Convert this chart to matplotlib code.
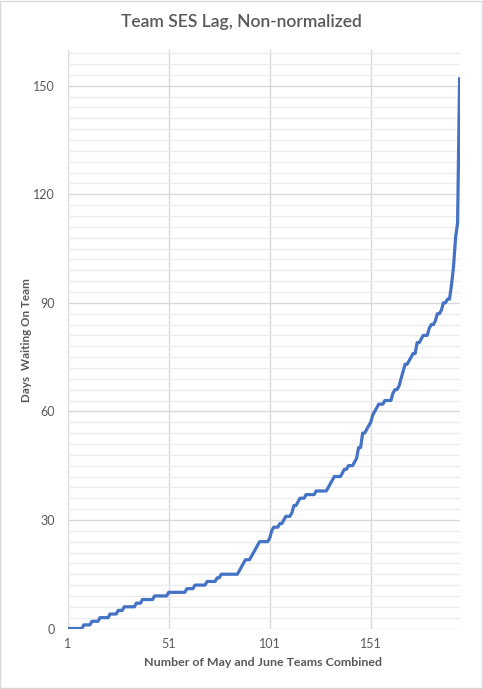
import matplotlib
matplotlib.use("Agg")
from matplotlib import pyplot as plt
from matplotlib.patches import Rectangle
import numpy as np

# Days waiting, sorted, one value per team
days = [0, 0, 0, 0, 0, 0, 0, 0,
        1, 1, 1, 1,
        2, 2, 2, 2,
        3, 3, 3, 3, 3,
        4, 4, 4, 4,
        5, 5, 5,
        6, 6, 6, 6, 6, 6,
        7, 7, 7,
        8, 8, 8, 8, 8, 8,
        9, 9, 9, 9, 9, 9, 9,
        10, 10, 10, 10, 10, 10, 10, 10, 10,
        11, 11, 11, 11,
        12, 12, 12, 12, 12, 12,
        13, 13, 13, 13, 13,
        14, 14,
        15, 15, 15, 15, 15, 15, 15, 15, 15,
        16, 17, 18,
        19, 19, 19,
        20, 21, 22, 23,
        24, 24, 24, 24, 24,
        25, 27,
        28, 28, 28,
        29, 29, 30,
        31, 31, 31, 32,
        34, 34, 35,
        36, 36, 36,
        37, 37, 37, 37, 37,
        38, 38, 38, 38, 38, 38,
        39, 40, 41,
        42, 42, 42, 42,
        43, 44, 44,
        45, 45, 45,
        46, 47, 50, 50, 54, 54,
        55, 56, 57, 59, 60, 61,
        62, 62, 62,
        63, 63, 63, 63,
        65, 66, 66, 67, 69, 71, 73, 73,
        74, 75, 76, 76, 79, 79, 80,
        81, 81, 81, 83, 84, 84, 85,
        87, 87, 88, 90, 90, 91, 91,
        95, 100, 108, 112, 152]
teams = np.arange(1, len(days) + 1)

x_ticks = [1, 51, 101, 151]
y_ticks = [0, 30, 60, 90, 120, 150]

txt = "#595959"
fam = ["Lato", "DejaVu Sans"]

fig = plt.figure(figsize=(4.83, 6.89), dpi=100)
fig.patches.append(Rectangle((0.001, 0.001), 0.997, 0.997, transform=fig.transFigure,
                             fill=False, edgecolor="#d9d9d9", linewidth=1))

ax = fig.add_axes([67.7 / 483, 60.5 / 689, (460 - 67.7) / 483, (628.5 - 49.5) / 689])
ax.plot(teams, days, color="#4472C4", linewidth=2.3, solid_joinstyle="round",
        solid_capstyle="round", zorder=3)

ax.set_xlim(1, 195.2)
ax.set_ylim(0, 160)
ax.set_xticks(x_ticks)
ax.set_yticks(y_ticks)
ax.set_yticks(np.arange(3, 160, 3), minor=True)
ax.grid(True, which="major", color="#d9d9d9", linewidth=1)
ax.grid(True, which="minor", axis="y", color="#ececec", linewidth=1)
ax.set_axisbelow(True)
for s in ax.spines.values():
    s.set_visible(False)
ax.tick_params(which="both", length=0)
ax.tick_params(axis="y", pad=9, labelsize=9, labelcolor=txt)
ax.tick_params(axis="x", pad=7, labelsize=9, labelcolor=txt)
for lab in ax.get_xticklabels() + ax.get_yticklabels():
    lab.set_family(fam)

fig.text(241 / 483, 1 - 22 / 689, "Team SES Lag, Non-normalized", ha="center", va="center",
         fontsize=12.6, color=txt, family=fam, fontweight="semibold")
fig.text(263 / 483, 1 - 663 / 689, "Number of May and June Teams Combined", ha="center",
         va="center", fontsize=8.9, color=txt, family=fam, fontweight="bold")
fig.text(27 / 483, 1 - 340 / 689, "Days  Waiting On Team", ha="center", va="center",
         rotation=90, fontsize=8.4, color=txt, family=fam, fontweight="bold")

plt.savefig("out.png")
